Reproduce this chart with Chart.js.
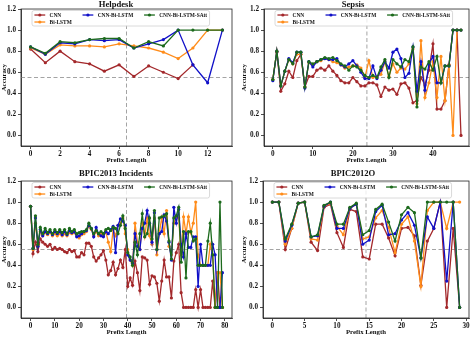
<!DOCTYPE html>
<html><head><meta charset="utf-8">
<script src="https://cdn.jsdelivr.net/npm/chart.js@4/dist/chart.umd.min.js"></script>
<style>
html,body{margin:0;padding:0;background:#fff;}
#wrap{position:relative;width:474px;height:337px;overflow:hidden;background:#fff;}
canvas{position:absolute;}
</style></head><body><div id="wrap">
<canvas id="c0" width="237" height="168" style="left:0;top:0"></canvas>
<canvas id="c1" width="237" height="168" style="left:237px;top:0"></canvas>
<canvas id="c2" width="237" height="169" style="left:0;top:168px"></canvas>
<canvas id="c3" width="237" height="169" style="left:237px;top:168px"></canvas>
</div>
<script>
// ---------- data ----------
const seriesNames = ['CNN', 'Bi-LSTM', 'CNN-Bi-LSTM', 'CNN-Bi-LSTM-SAtt'];
const yTickValues = [0, 0.2, 0.4, 0.6, 0.8, 1.0, 1.2];
const thresholdAccuracy = 0.55;
const xAxisLabel = 'Prefix Length';
const yAxisLabel = 'Accuracy';

const helpdeskXTicks = [0, 2, 4, 6, 8, 10, 12];
const helpdeskCNN = [0.82, 0.69, 0.80, 0.70, 0.68, 0.61, 0.67, 0.56, 0.66, 0.60, 0.54, 0.67];
const helpdeskBiLSTM = [0.83, 0.77, 0.86, 0.85, 0.85, 0.84, 0.87, 0.85, 0.83, 0.79, 0.73, 0.83, 1.0, 1.0];
const helpdeskCNNBiLSTM = [0.84, 0.77, 0.88, 0.87, 0.91, 0.90, 0.91, 0.83, 0.87, 0.91, 1.0, 0.67, 0.50, 1.0];
const helpdeskSAtt = [0.84, 0.78, 0.89, 0.88, 0.91, 0.92, 0.92, 0.83, 0.89, 0.85, 1.0, 1.0, 1.0, 1.0];

const sepsisXTicks = [0, 10, 20, 30, 40];
const sepsisCNN = [0.53,0.79,0.42,0.49,0.61,0.55,0.71,0.77,0.46,0.56, 0.56,0.62,0.64,0.62,0.66,0.61,0.57,0.52,0.50,0.50, 0.55,0.51,0.47,0.47,0.50,0.50,0.48,0.37,0.46,0.43, 0.44,0.39,0.49,0.50,0.45,0.31,0.33,0.55,0.48,0.62, 0.87,0.25,0.25,0.33,0.67,1.0,1.0,0.0];
const sepsisBiLSTM = [0.53,0.80,0.47,0.61,0.72,0.68,0.77,0.77,0.46,0.69, 0.67,0.70,0.71,0.73,0.72,0.70,0.69,0.67,0.64,0.65, 0.66,0.67,0.64,0.55,0.71,0.55,0.56,0.58,0.70,0.56, 0.68,0.60,0.64,0.63,0.68,0.82,0.30,0.90,0.36,0.50, 0.70,0.36,0.75,0.33,0.67,0.0,1.0,1.0];
const sepsisCNNBiLSTM = [0.52,0.80,0.47,0.61,0.73,0.69,0.79,0.79,0.45,0.70, 0.65,0.70,0.72,0.73,0.72,0.72,0.73,0.67,0.65,0.68, 0.71,0.66,0.60,0.54,0.54,0.66,0.54,0.62,0.70,0.64, 0.79,0.82,0.73,0.55,0.59,0.84,0.42,0.70,0.43,0.68, 0.75,0.50,0.50,0.66,0.66,1.0,1.0,1.0];
const sepsisSAtt = [0.53,0.80,0.47,0.61,0.72,0.68,0.79,0.79,0.46,0.70, 0.68,0.70,0.72,0.74,0.73,0.74,0.71,0.68,0.66,0.62, 0.66,0.65,0.62,0.57,0.55,0.57,0.55,0.65,0.72,0.55, 0.72,0.68,0.65,0.72,0.70,0.84,0.27,0.65,0.63,0.70, 0.62,0.75,0.50,0.66,0.66,1.0,1.0,1.0];

const bpic13XTicks = [0, 10, 20, 30, 40, 50, 60, 70, 80];
const bpic13CNN = [0.96,0.51,0.62,0.53,0.65,0.62,0.60,0.58,0.60,0.55, 0.57,0.55,0.56,0.55,0.53,0.52,0.55,0.53,0.54,0.48, 0.48,0.52,0.50,0.61,0.61,0.58,0.48,0.44,0.47,0.50, 0.54,0.45,0.31,0.35,0.43,0.31,0.37,0.45,0.38,0.55, 0.20,0.28,0.21,0.44,0.33,0.16,0.48,0.47,0.45,0.22, 0.30,0.29,0.23,0.06,0.25,0.45,0.29,0.29,0.09,0.44, 0.52,0.60,0.14,0.0,0.0,0.0,0.0,0.0,0.17,0.0, 0.17,0.0,0.0,0.0,0.0,0.25,0.0,0.33,0.0,0.0];
const bpic13BiLSTM = [0.96,0.55,0.80,0.60,0.72,0.68,0.71,0.69,0.71,0.68, 0.70,0.68,0.70,0.68,0.70,0.68,0.71,0.70,0.71,0.68, 0.66,0.69,0.70,0.72,0.77,0.74,0.68,0.72,0.68,0.70, 0.68,0.72,0.62,0.53,0.74,0.68,0.78,0.80,0.85,0.70, 0.55,0.45,0.40,0.80,0.62,0.55,0.80,0.67,0.85,0.68, 0.60,0.85,0.50,0.70,0.85,0.70,0.92,0.58,0.50,0.80, 0.86,0.85,0.50,0.86,0.70,0.86,0.71,0.80,1.0,0.50, 0.40,0.40,0.40,0.40,0.60,0.50,0.0,0.33,0.33,0.0];
const bpic13CNNBiLSTM = [0.96,0.56,0.85,0.58,0.74,0.68,0.72,0.70,0.72,0.69, 0.72,0.70,0.72,0.69,0.72,0.69,0.73,0.71,0.72,0.67, 0.68,0.70,0.72,0.73,0.78,0.75,0.67,0.76,0.70,0.68, 0.67,0.72,0.70,0.74,0.77,0.52,0.78,0.84,0.82,0.78, 0.50,0.45,0.42,0.70,0.58,0.55,0.75,0.80,0.92,0.80, 0.62,0.90,0.55,0.70,0.72,0.88,0.82,0.62,0.45,0.95, 0.80,0.93,0.60,0.48,0.70,0.57,0.57,0.67,0.67,0.20, 0.60,0.40,0.40,0.40,0.40,0.60,0.50,0.0,0.0,0.33];
const bpic13SAtt = [0.96,0.56,0.87,0.60,0.76,0.70,0.75,0.71,0.74,0.70, 0.74,0.71,0.74,0.71,0.74,0.70,0.75,0.72,0.74,0.70, 0.71,0.72,0.72,0.74,0.80,0.75,0.70,0.73,0.70,0.72, 0.70,0.74,0.75,0.73,0.76,0.75,0.70,0.78,0.87,0.75, 0.52,0.48,0.40,0.62,0.50,0.70,0.89,0.67,0.70,0.85, 0.65,0.92,0.55,0.85,0.86,0.87,0.89,0.63,0.46,0.85, 0.87,0.95,0.43,0.72,0.28,0.72,0.72,0.63,0.65,0.40, 0.40,0.40,0.40,0.63,0.80,0.50,0.0,0.0,1.0,0.0];

const bpic12XTicks = [0, 5, 10, 15, 20, 25, 30];
const bpic12CNN = [1.0,1.0,0.55,0.75,0.99,1.0,0.62,0.54,0.95,0.98, 0.71,0.57,0.93,0.91,0.48,0.46,0.79,0.79,0.66,0.49, 0.75,0.76,0.68,0.21,0.63,0.75,1.0,0.0,0.75,0.0];
const bpic12BiLSTM = [1.0,1.0,0.60,0.75,0.99,1.0,0.65,0.64,0.96,0.99, 0.77,0.69,0.94,0.98,0.65,0.67,0.85,0.92,0.76,0.52, 0.79,0.86,0.63,0.20,0.92,1.0,1.0,0.75,1.0,1.0];
const bpic12CNNBiLSTM = [1.0,1.0,0.63,0.78,0.99,1.0,0.67,0.68,0.96,1.0, 0.75,0.75,0.94,0.98,0.60,0.64,0.91,0.97,0.69,0.70, 0.83,0.90,0.78,0.47,0.86,0.75,1.0,0.25,1.0,0.0];
const bpic12SAtt = [1.0,1.0,0.65,0.79,0.99,1.0,0.67,0.69,0.97,1.0, 0.79,0.79,0.95,0.99,0.69,0.73,0.93,0.98,0.81,0.63, 0.88,0.95,0.90,0.47,1.0,1.0,1.0,1.0,1.0,0.0];

// ---------- styling / layout ----------
const FONT = '"Liberation Serif", "Times New Roman", serif';
const seriesColors = ['#A3282B', '#FF8C1A', '#1010C8', '#1C6A1C'];

const panels = [
  { id: 'c0', title: 'Helpdesk', series: [helpdeskCNN, helpdeskBiLSTM, helpdeskCNNBiLSTM, helpdeskSAtt],
    xTicks: helpdeskXTicks, xMin: -0.65, xMax: 13.65, split: 6.5,
    w: 237, h: 168, area: { left: 21, right: 232, top: 9, bottom: 146 },
    titlePad: { top: 0, bottom: -1.3 }, xTitlePadBottom: 4, yTitlePadTop: 0.2 },
  { id: 'c1', title: 'Sepsis', series: [sepsisCNN, sepsisBiLSTM, sepsisCNNBiLSTM, sepsisSAtt],
    xTicks: sepsisXTicks, xMin: -2.2, xMax: 49.0, split: 23.5,
    w: 237, h: 168, area: { left: 27, right: 232, top: 9, bottom: 146 },
    titlePad: { top: 0, bottom: -1.3 }, xTitlePadBottom: 4, yTitlePadTop: 2.8 },
  { id: 'c2', title: 'BPIC2013 Incidents', series: [bpic13CNN, bpic13BiLSTM, bpic13CNNBiLSTM, bpic13SAtt],
    xTicks: bpic13XTicks, xMin: -3.95, xMax: 82.95, split: 39.5,
    w: 237, h: 169, area: { left: 21, right: 232, top: 13, bottom: 150 },
    titlePad: { top: 0.9, bottom: 1.8 }, xTitlePadBottom: 1.1, yTitlePadTop: 0.2 },
  { id: 'c3', title: 'BPIC2012O', series: [bpic12CNN, bpic12BiLSTM, bpic12CNNBiLSTM, bpic12SAtt],
    xTicks: bpic12XTicks, xMin: -1.45, xMax: 30.45, split: 14.5,
    w: 237, h: 169, area: { left: 26, right: 232, top: 13, bottom: 150 },
    titlePad: { top: 0.9, bottom: 1.8 }, xTitlePadBottom: 1.1, yTitlePadTop: 3.2 }
];

const frameLegendPlugin = {
  id: 'frameLegend',
  afterDraw(chart) {
    const ctx = chart.ctx;
    const a = chart.chartArea;
    ctx.save();
    ctx.strokeStyle = '#222';
    ctx.lineWidth = 0.8;
    ctx.strokeRect(a.left, a.top, a.right - a.left, a.bottom - a.top);
    const fs = 5.4;
    ctx.font = 'bold ' + fs + 'px ' + FONT;
    const handle = 2 * fs, tpad = 0.8 * fs, cspace = 2 * fs, bpad = 0.45 * fs;
    const columns = [[0, 1], [2], [3]];
    const rowH = 7;
    const bx = a.left + 11, by = a.top + 1.5;
    let x = bx + bpad;
    const colX = [];
    columns.forEach(col => {
      colX.push(x);
      const tw = Math.max(...col.map(k => ctx.measureText(seriesNames[k]).width));
      x += handle + tpad + tw + cspace;
    });
    const bw = x - cspace + bpad - bx;
    const bh = 15.5;
    ctx.globalAlpha = 0.8;
    ctx.fillStyle = '#fff';
    ctx.beginPath();
    ctx.roundRect(bx, by, bw, bh, 2);
    ctx.fill();
    ctx.globalAlpha = 1;
    ctx.strokeStyle = '#d0d0d0';
    ctx.lineWidth = 0.8;
    ctx.stroke();
    columns.forEach((col, ci) => {
      col.forEach((k, ri) => {
        const yy = by + 4.5 + ri * rowH;
        const x0 = colX[ci];
        ctx.strokeStyle = seriesColors[k];
        ctx.lineWidth = 1.3;
        ctx.beginPath(); ctx.moveTo(x0, yy); ctx.lineTo(x0 + handle, yy); ctx.stroke();
        ctx.fillStyle = seriesColors[k];
        ctx.beginPath(); ctx.arc(x0 + handle / 2, yy, 1.6, 0, Math.PI * 2); ctx.fill();
        ctx.fillStyle = '#111';
        ctx.textBaseline = 'middle';
        ctx.textAlign = 'left';
        ctx.fillText(seriesNames[k], x0 + handle + tpad, yy + 0.3);
      });
    });
    ctx.restore();
  }
};

function makeChart(p) {
  const datasets = p.series.map((arr, k) => ({
    label: seriesNames[k],
    data: arr.map((v, i) => ({ x: i, y: v })),
    borderColor: seriesColors[k],
    backgroundColor: seriesColors[k],
    borderWidth: 1.3,
    pointRadius: 1.6,
    pointHoverRadius: 1.6,
    pointBorderWidth: 0,
    tension: 0,
    fill: false,
    order: 4 - k
  }));
  datasets.push({
    label: 'threshold',
    data: [{ x: p.xMin, y: thresholdAccuracy }, { x: p.xMax, y: thresholdAccuracy }],
    borderColor: '#9a9a9a', borderWidth: 0.9, borderDash: [4, 2.5],
    pointRadius: 0, fill: false, order: 10
  });
  datasets.push({
    label: 'split',
    data: [{ x: p.split, y: -0.1 }, { x: p.split, y: 1.2 }],
    borderColor: '#9a9a9a', borderWidth: 0.9, borderDash: [4, 2.5],
    pointRadius: 0, fill: false, order: 10
  });
  const tickFont = { family: FONT, size: 7.2, weight: 'bold' };
  const labFont = { family: FONT, size: 6.8, weight: 'bold', lineHeight: 1.2 };
  new Chart(document.getElementById(p.id), {
    type: 'line',
    data: { datasets },
    plugins: [frameLegendPlugin],
    options: {
      responsive: false,
      animation: false,
      devicePixelRatio: 1,
      events: [],
      layout: { padding: { left: 0, top: 0, bottom: 0, right: p.w - p.area.right } },
      plugins: {
        legend: { display: false },
        tooltip: { enabled: false },
        title: {
          display: true, text: p.title, color: '#111',
          font: { family: FONT, size: 8.6, weight: 'bold', lineHeight: 1.2 },
          padding: p.titlePad
        }
      },
      scales: {
        x: {
          type: 'linear', min: p.xMin, max: p.xMax,
          afterBuildTicks: s => { s.ticks = p.xTicks.map(v => ({ value: v })); },
          afterFit: s => { s.height = p.h - p.area.bottom; },
          grid: { display: true, drawOnChartArea: false, drawTicks: true, tickLength: 3, color: '#222', lineWidth: 0.8 },
          border: { display: true, color: '#222', width: 0.8 },
          ticks: { font: tickFont, color: '#111', padding: 0.5, maxRotation: 0, autoSkip: false, callback: v => String(v) },
          title: { display: true, text: xAxisLabel, color: '#111', font: labFont, padding: { top: 0, bottom: p.xTitlePadBottom } }
        },
        y: {
          type: 'linear', min: -0.1, max: 1.2,
          afterBuildTicks: s => { s.ticks = yTickValues.map(v => ({ value: v })); },
          afterFit: s => { s.width = p.area.left; },
          grid: { display: true, drawOnChartArea: false, drawTicks: true, tickLength: 3, color: '#222', lineWidth: 0.8 },
          border: { display: true, color: '#222', width: 0.8 },
          ticks: { font: tickFont, color: '#111', padding: 2, autoSkip: false, callback: v => Number(v).toFixed(1) },
          title: { display: true, text: yAxisLabel, color: '#111', font: labFont, padding: { top: p.yTitlePadTop, bottom: 0 } }
        }
      }
    }
  });
}
panels.forEach(makeChart);
</script>
</body></html>
